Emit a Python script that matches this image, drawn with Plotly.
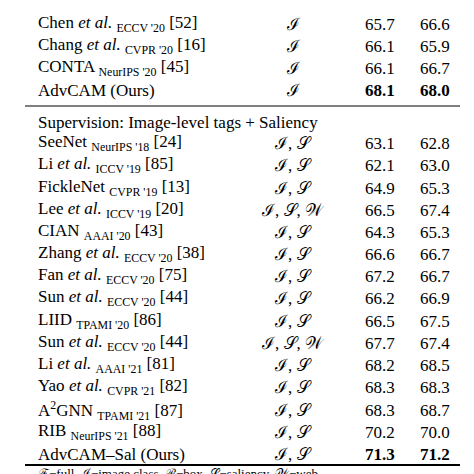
import plotly.graph_objects as go

names = ["Chen <i>et al.</i> <sub>ECCV '20</sub> [52]", "Chang <i>et al.</i> <sub>CVPR '20</sub> [16]",
         "CONTA <sub>NeurIPS '20</sub> [45]", "AdvCAM (Ours)",
         "SeeNet <sub>NeurIPS '18</sub> [24]", "Li <i>et al.</i> <sub>ICCV '19</sub> [85]",
         "FickleNet <sub>CVPR '19</sub> [13]", "Lee <i>et al.</i> <sub>ICCV '19</sub> [20]",
         "CIAN <sub>AAAI '20</sub> [43]", "Zhang <i>et al.</i> <sub>ECCV '20</sub> [38]",
         "Fan <i>et al.</i> <sub>ECCV '20</sub> [75]", "Sun <i>et al.</i> <sub>ECCV '20</sub> [44]",
         "LIID <sub>TPAMI '20</sub> [86]", "Sun <i>et al.</i> <sub>ECCV '20</sub> [44]",
         "Li <i>et al.</i> <sub>AAAI '21</sub> [81]", "Yao <i>et al.</i> <sub>CVPR '21</sub> [82]",
         "A<sup>2</sup>GNN <sub>TPAMI '21</sub> [87]", "RIB <sub>NeurIPS '21</sub> [88]",
         "AdvCAM–Sal (Ours)"]
I, S, W = "ℐ", "𝒮", "𝒲"
sups = [I, I, I, I,
        f"{I}, {S}", f"{I}, {S}", f"{I}, {S}", f"{I}, {S}, {W}", f"{I}, {S}", f"{I}, {S}",
        f"{I}, {S}", f"{I}, {S}", f"{I}, {S}", f"{I}, {S}, {W}", f"{I}, {S}", f"{I}, {S}",
        f"{I}, {S}", f"{I}, {S}", f"{I}, {S}"]
val1 = [65.7, 66.1, 66.1, 68.1, 63.1, 62.1, 64.9, 66.5, 64.3, 66.6, 67.2, 66.2, 66.5, 67.7, 68.2, 68.3, 68.3, 70.2, 71.3]
val2 = [66.6, 65.9, 66.7, 68.0, 62.8, 63.0, 65.3, 67.4, 65.3, 66.7, 66.7, 66.9, 67.5, 67.4, 68.5, 68.3, 68.7, 70.0, 71.2]
bold = [3, 18]
row_y = [16, 38, 60, 82, 135, 157, 180, 202, 224, 246, 268, 290, 313, 335, 357, 379, 402, 424, 446]
header = "Supervision: Image-level tags + Saliency"
footer = "ℱ−full, ℐ−image class, ℬ−box, 𝒮−saliency, 𝒲−web"

fig = go.Figure()
font = dict(family="Liberation Serif", size=17, color="black")
ann = []
for i, (n, s, a, b, y) in enumerate(zip(names, sups, val1, val2, row_y)):
    fa = f"<b>{a:.1f}</b>" if i in bold else f"{a:.1f}"
    fb = f"<b>{b:.1f}</b>" if i in bold else f"{b:.1f}"
    ann.append(dict(x=28, y=y, text=n, xanchor="left", showarrow=False, font=font))
    ann.append(dict(x=285, y=y, text=s, xanchor="center", showarrow=False, font=font))
    ann.append(dict(x=372, y=y, text=fa, xanchor="center", showarrow=False, font=font))
    ann.append(dict(x=427, y=y, text=fb, xanchor="center", showarrow=False, font=font))
ann.append(dict(x=28, y=114, text=header, xanchor="left", showarrow=False, font=font))
ann.append(dict(x=28, y=465, text=footer, xanchor="left", showarrow=False, borderpad=0,
                font=dict(family="Liberation Serif", size=13, color="black")))
fig.update_layout(
    width=474, height=474, margin=dict(l=0, r=0, t=0, b=0),
    plot_bgcolor="white", paper_bgcolor="white", annotations=ann,
    xaxis=dict(range=[0, 474], visible=False, fixedrange=True),
    yaxis=dict(range=[474, 0], visible=False, fixedrange=True),
    shapes=[dict(type="line", x0=17, x1=452, y0=98, y1=98, line=dict(color="black", width=1.2)),
            dict(type="line", x0=17, x1=452, y0=457, y1=457, line=dict(color="black", width=2))],
    showlegend=False,
)
fig.write_html("out.html")
